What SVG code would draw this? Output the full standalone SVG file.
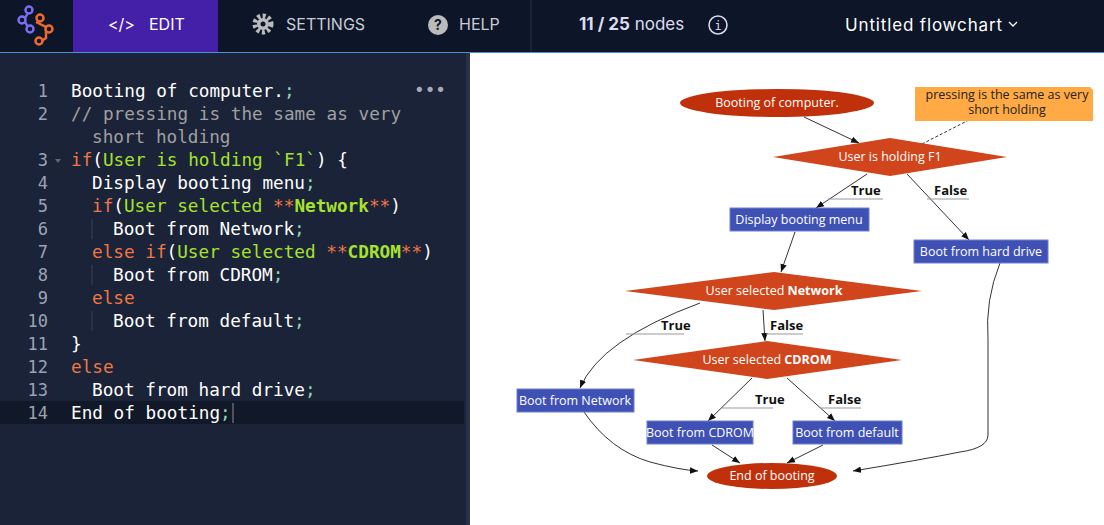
<svg xmlns="http://www.w3.org/2000/svg" width="1104" height="525" viewBox="0 0 1104 525">
<style>
.code{font-family:"DejaVu Sans Mono",monospace;font-size:17.7px;fill:#fff}
.ln{font-family:"DejaVu Sans Mono",monospace;font-size:17px;fill:#9aa3b5;text-anchor:end}
.kw{fill:#f07746}.cond{fill:#a6e22e}.cm{fill:#a0a0a0}.semi{fill:#8fd6b4}
.nt{font-family:"Open Sans","Noto Sans",sans-serif;font-size:12.5px;fill:#fff;text-anchor:middle}
.lab{font-family:"Open Sans","Noto Sans",sans-serif;font-size:13px;font-weight:bold;fill:#111}
.hdr{font-family:Inter,"Noto Sans",sans-serif;font-size:16px;fill:#c9ccd4}
.e{fill:none;stroke:#333;stroke-width:1;marker-end:url(#a)}
.u{stroke:#999;stroke-width:1.2}
.box{fill:#3f51b5;stroke:#6f7fd0}
.dia{fill:#d0451b}
.ell{fill:#c0300a}
</style>
<defs><marker id="a" viewBox="0 0 10 10" refX="10" refY="5" markerWidth="8" markerHeight="8" orient="auto"><path d="M0,1 L10,5 L0,9 z" fill="#111"/></marker></defs>
<rect width="1104" height="525" fill="#fff"/>
<g id="header">
<rect width="1104" height="52" fill="#0d1528"/>
<rect x="73" y="0" width="145" height="52" fill="#4420a8"/>
<g fill="none" stroke-width="2.5"><path d="M29 11 L24 20 L29 29" stroke="#7b6cf0"/><path d="M36 22 L46 27 L46 38 L38 43" stroke="#f06a2e"/></g>
<g stroke-width="2.5" fill="#0d1528"><circle cx="29" cy="10" r="3.5" stroke="#7b6cf0"/><circle cx="22" cy="20" r="3.5" stroke="#7b6cf0"/><circle cx="30" cy="29" r="3.5" stroke="#7b6cf0"/><circle cx="40" cy="18" r="3.5" stroke="#f06a2e"/><circle cx="49" cy="29" r="3.5" stroke="#f06a2e"/><circle cx="39" cy="41" r="3.5" stroke="#f06a2e"/></g>
<text x="108" y="30" class="hdr" style="fill:#fff">&lt;/&gt;</text>
<text x="149" y="30" class="hdr" style="fill:#fff">EDIT</text>
<circle cx="263" cy="24" r="8" fill="none" stroke="#bbb" stroke-width="5" stroke-dasharray="3 2.3"/><circle cx="263" cy="24" r="6" fill="#bbb"/><circle cx="263" cy="24" r="2.5" fill="#0d1528"/>
<text x="286" y="30" class="hdr">SETTINGS</text>
<circle cx="438" cy="25" r="10" fill="#bbb"/><text x="438" y="30" text-anchor="middle" font-family="Inter,sans-serif" font-size="14" font-weight="bold" fill="#0d1528">?</text>
<text x="459" y="30" class="hdr">HELP</text>
<line x1="531" y1="0" x2="531" y2="52" stroke="#2a3346"/>
<text x="579" y="30" class="hdr" style="fill:#dde;font-size:17px"><tspan font-weight="bold">11 / 25</tspan> nodes</text>
<circle cx="718" cy="25" r="9" fill="none" stroke="#dde" stroke-width="1.5"/><text x="718" y="30" text-anchor="middle" font-family="DejaVu Sans Mono,monospace" font-size="12" fill="#dde">i</text>
<text x="845" y="31" class="hdr" style="fill:#fff;font-size:17px" textLength="157">Untitled flowchart</text>
<path d="M1009 22 L1013 26 L1017 22" fill="none" stroke="#fff" stroke-width="1.3"/>
<line x1="0" y1="52.5" x2="1104" y2="52.5" stroke="#4a90d9"/>
</g>
<g id="editor">
<rect x="0" y="53" width="466" height="472" fill="#1b2338"/>
<rect x="466" y="53" width="4" height="472" fill="#2a3346"/>
<rect x="0" y="401" width="464" height="23" fill="#111827"/>
<text x="430" y="96" font-family="DejaVu Sans,sans-serif" font-size="18" fill="#aab" text-anchor="middle">•••</text>
<g stroke="#3a4358"><line x1="92" y1="219" x2="92" y2="239"/><line x1="92" y1="265" x2="92" y2="285"/><line x1="92" y1="311" x2="92" y2="331"/></g>
<line x1="233" y1="403" x2="233" y2="423" stroke="#8890a0"/>
<g class="ln"><text x="48" y="97">1</text><text x="48" y="120">2</text><text x="48" y="166">3</text><text x="48" y="189">4</text><text x="48" y="212">5</text><text x="48" y="235">6</text><text x="48" y="258">7</text><text x="48" y="281">8</text><text x="48" y="304">9</text><text x="48" y="327">10</text><text x="48" y="350">11</text><text x="48" y="373">12</text><text x="48" y="396">13</text><text x="48" y="419">14</text></g>
<path d="M55 159 L61 159 L58 163 z" fill="#666"/>
<g class="code">
<text x="71" y="97">Booting of computer.<tspan class="semi">;</tspan></text>
<text x="71" y="120" class="cm">// pressing is the same as very</text>
<text x="92" y="143" class="cm">short holding</text>
<text x="71" y="166"><tspan class="kw">if</tspan>(<tspan class="cond">User is holding `F1`</tspan>) {</text>
<text x="92" y="189">Display booting menu<tspan class="semi">;</tspan></text>
<text x="92" y="212"><tspan class="kw">if</tspan>(<tspan class="cond">User selected </tspan><tspan class="kw">**</tspan><tspan class="cond" font-weight="bold">Network</tspan><tspan class="kw">**</tspan>)</text>
<text x="113" y="235">Boot from Network<tspan class="semi">;</tspan></text>
<text x="92" y="258"><tspan class="kw">else if</tspan>(<tspan class="cond">User selected </tspan><tspan class="kw">**</tspan><tspan class="cond" font-weight="bold">CDROM</tspan><tspan class="kw">**</tspan>)</text>
<text x="113" y="281">Boot from CDROM<tspan class="semi">;</tspan></text>
<text x="92" y="304" class="kw">else</text>
<text x="113" y="327">Boot from default<tspan class="semi">;</tspan></text>
<text x="71" y="350">}</text>
<text x="71" y="373" class="kw">else</text>
<text x="92" y="396">Boot from hard drive<tspan class="semi">;</tspan></text>
<text x="71" y="419">End of booting<tspan class="semi">;</tspan></text>
</g>
</g>
<g id="connectors">
<path class="e" d="M804 117 L859 143"/>
<path d="M922 144 L969 120" fill="none" stroke="#333" stroke-dasharray="3 2"/>
<path class="e" d="M867 174 L816 208"/>
<path class="e" d="M907 174 L969 240"/>
<path class="e" d="M795 232 L781 272"/>
<path class="e" d="M1000 263 Q985 300 988 340 L988 435 Q988 448 960 452 Q920 460 853 471"/>
<path class="e" d="M700 303 Q600 340 580 388"/>
<path class="e" d="M763 310 L765 341"/>
<path class="e" d="M752 378 L708 421"/>
<path class="e" d="M787 378 L835 421"/>
<path class="e" d="M584 412 Q610 450 650 462 Q680 470 698 471"/>
<path class="e" d="M712 445 L740 463"/>
<path class="e" d="M823 445 L787 463"/>
<g class="u"><line x1="828" y1="199" x2="883" y2="199"/><line x1="927" y1="199" x2="969" y2="199"/><line x1="626" y1="334" x2="684" y2="334"/><line x1="766" y1="334" x2="803" y2="334"/><line x1="722" y1="408" x2="773" y2="408"/><line x1="820" y1="408" x2="861" y2="408"/></g>
<g class="lab"><text x="851" y="195">True</text><text x="934" y="195">False</text><text x="661" y="330">True</text><text x="770" y="330">False</text><text x="755" y="404">True</text><text x="828" y="404">False</text></g>
</g>
<g id="n1"><ellipse class="ell" cx="777" cy="103" rx="97" ry="14"/><text class="nt" x="777" y="107">Booting of computer.</text></g>
<g id="note"><path d="M915 87 L1090 87 L1093 90 L1093 121 L915 121 z" fill="#ffaa44"/><text x="1007" y="99" font-family="Open Sans,sans-serif" font-size="12.5" fill="#222" text-anchor="middle">pressing is the same as very</text><text x="1007" y="114" font-family="Open Sans,sans-serif" font-size="12.5" fill="#222" text-anchor="middle">short holding</text></g>
<g id="d1"><path class="dia" d="M773 157 L890 138 L1007 157 L890 176 z"/><text class="nt" x="890" y="161">User is holding F1</text></g>
<g id="n2"><rect class="box" x="730" y="208" width="139" height="23"/><text class="nt" x="799" y="224">Display booting menu</text></g>
<g id="n3"><rect class="box" x="914" y="240" width="134" height="23"/><text class="nt" x="981" y="256">Boot from hard drive</text></g>
<g id="d2"><path class="dia" d="M625 291 L774 272 L922 291 L774 310 z"/><text class="nt" x="774" y="295">User selected <tspan font-weight="bold">Network</tspan></text></g>
<g id="d3"><path class="dia" d="M633 360 L767 341 L902 360 L767 379 z"/><text class="nt" x="767" y="364">User selected <tspan font-weight="bold">CDROM</tspan></text></g>
<g id="n4"><rect class="box" x="517" y="389" width="117" height="23"/><text class="nt" x="575" y="405">Boot from Network</text></g>
<g id="n5"><rect class="box" x="647" y="421" width="106" height="23"/><text class="nt" x="700" y="437">Boot from CDROM</text></g>
<g id="n6"><rect class="box" x="793" y="421" width="109" height="23"/><text class="nt" x="847" y="437">Boot from default</text></g>
<g id="n7"><ellipse class="ell" cx="772" cy="476" rx="65" ry="13"/><text class="nt" x="772" y="480">End of booting</text></g>
</svg>
